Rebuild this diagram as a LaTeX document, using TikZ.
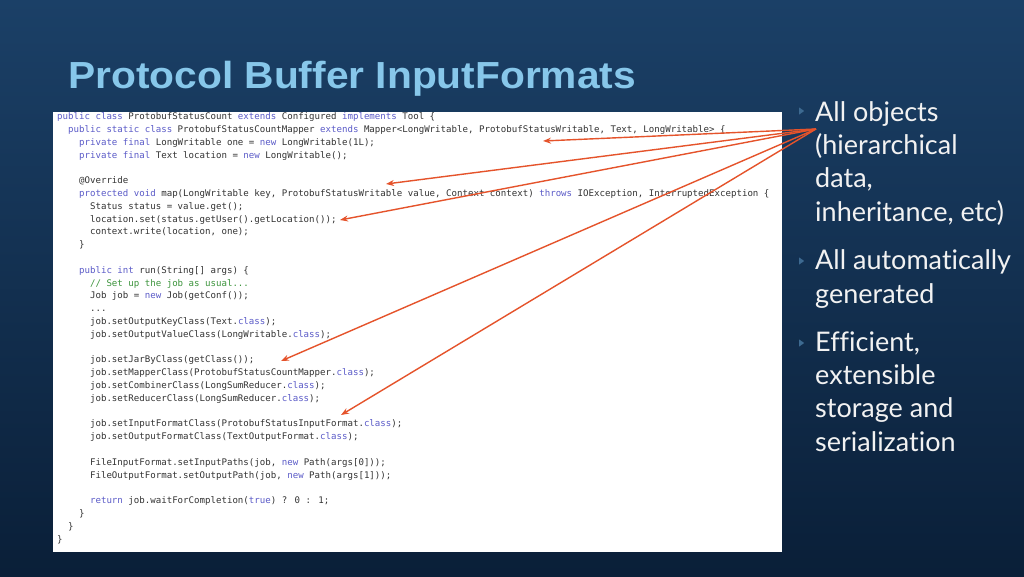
\documentclass[tikz,border=0pt]{standalone}
\usepackage{fontspec}
\usepackage{tikz}
\usetikzlibrary{arrows.meta, positioning, shapes.geometric}

\newfontfamily\codefont{DejaVu Sans Mono}
\newfontfamily\titlefont{Liberation Sans}[FakeStretch=1.08]
\newfontfamily\bulletfont{Lato}[Ligatures={NoCommon, NoDiscretionary, NoRare}]

\definecolor{slidetop}{HTML}{1B4067}
\definecolor{slidebot}{HTML}{0A1F38}
\definecolor{titleblue}{HTML}{87C7EA}
\definecolor{kwblue}{HTML}{5B5BC8}
\definecolor{cmgreen}{HTML}{3C943C}
\definecolor{pointred}{HTML}{E5532B}
\definecolor{tickblue}{HTML}{3D6A91}

\newdimen\cw \cw=5.48pt
\newcommand{\ind}[1]{\hspace*{#1\cw}}
\newcommand{\kw}[1]{\textcolor{kwblue}{#1}}
\newcommand{\cm}[1]{\textcolor{cmgreen}{#1}}

\tikzset{
  pointer/.style={draw=pointred, line width=1.4pt, -{Stealth[length=8pt,width=6pt]}},
  bullet/.style={anchor=base west, inner sep=0pt, align=left, text=white!95!black,
    font=\bulletfont\fontsize{27}{33.3}\selectfont},
  tick/.style={isosceles triangle, isosceles triangle apex angle=70, fill=tickblue,
    inner sep=0pt, minimum height=5pt, minimum width=6pt},
}

\begin{document}
\begin{tikzpicture}[x=1pt, y=-1pt]
\useasboundingbox (0,0) rectangle (1024,576);
\shade[top color=slidetop, bottom color=slidebot] (0,0) rectangle (1024,576);

% title
\node[anchor=base west, inner sep=0pt, text=titleblue,
  font=\titlefont\bfseries\fontsize{37.7}{40}\selectfont] (title) at (68,88)
  {Protocol Buffer InputFormats};

% code listing (anchored on its last line)
\fill[white] (53,112) rectangle (782,552);
\node[anchor=base west, inner sep=0pt, align=left, text=black!80,
  font=\codefont\fontsize{9.1}{12.8}\selectfont] (listing) at (57,542) {%
\kw{public} \kw{class} ProtobufStatusCount \kw{extends} Configured \kw{implements} Tool \{\\
\ind{2}\kw{public} \kw{static} \kw{class} ProtobufStatusCountMapper \kw{extends} Mapper<LongWritable, ProtobufStatusWritable, Text, LongWritable> \{\\
\ind{4}\kw{private} \kw{final} LongWritable one = \kw{new} LongWritable(1L);\\
\ind{4}\kw{private} \kw{final} Text location = \kw{new} LongWritable();\\
\mbox{}\\
\ind{4}@Override\\
\ind{4}\kw{protected} \kw{void} map(LongWritable key, ProtobufStatusWritable value, Context context) \kw{throws} IOException, InterruptedException \{\\
\ind{6}Status status = value.get();\\
\ind{6}location.set(status.getUser().getLocation());\\
\ind{6}context.write(location, one);\\
\ind{4}\}\\
\mbox{}\\
\ind{4}\kw{public} \kw{int} run(String[] args) \{\\
\ind{6}\cm{// Set up the job as usual...}\\
\ind{6}Job job = \kw{new} Job(getConf());\\
\ind{6}...\\
\ind{6}job.setOutputKeyClass(Text.\kw{class});\\
\ind{6}job.setOutputValueClass(LongWritable.\kw{class});\\
\mbox{}\\
\ind{6}job.setJarByClass(getClass());\\
\ind{6}job.setMapperClass(ProtobufStatusCountMapper.\kw{class});\\
\ind{6}job.setCombinerClass(LongSumReducer.\kw{class});\\
\ind{6}job.setReducerClass(LongSumReducer.\kw{class});\\
\mbox{}\\
\ind{6}job.setInputFormatClass(ProtobufStatusInputFormat.\kw{class});\\
\ind{6}job.setOutputFormatClass(TextOutputFormat.\kw{class});\\
\mbox{}\\
\ind{6}FileInputFormat.setInputPaths(job, \kw{new} Path(args[0]));\\
\ind{6}FileOutputFormat.setOutputPath(job, \kw{new} Path(args[1]));\\
\mbox{}\\
\ind{6}\kw{return} job.waitForCompletion(\kw{true}) ? 0 : 1;\\
\ind{4}\}\\
\ind{2}\}\\
\}};

% bullets (anchored on their last lines)
\node[bullet] (objects) at (815,221) {All objects\\(hierarchical\\data,\\inheritance, etc)};
\node[bullet] (generated) at (815,303) {All automatically\\generated};
\node[bullet] (efficient) at (815,451) {Efficient,\\extensible\\storage and\\serialization};
\node[tick] (tick1) at (801,111) {};
\node[tick] (tick2) at (801,261) {};
\node[tick] (tick3) at (801,343) {};

% pointers into the listing
\coordinate (src) at (816,129);
\coordinate (mapper) at (543,141);
\coordinate (value) at (386,184);
\coordinate (getloc) at (340,220);
\coordinate (jar) at (281,361);
\coordinate (informat) at (341,415);
\foreach \t in {mapper, value, getloc, jar, informat}
  \draw[pointer] (src) -- (\t);
\end{tikzpicture}
\end{document}
